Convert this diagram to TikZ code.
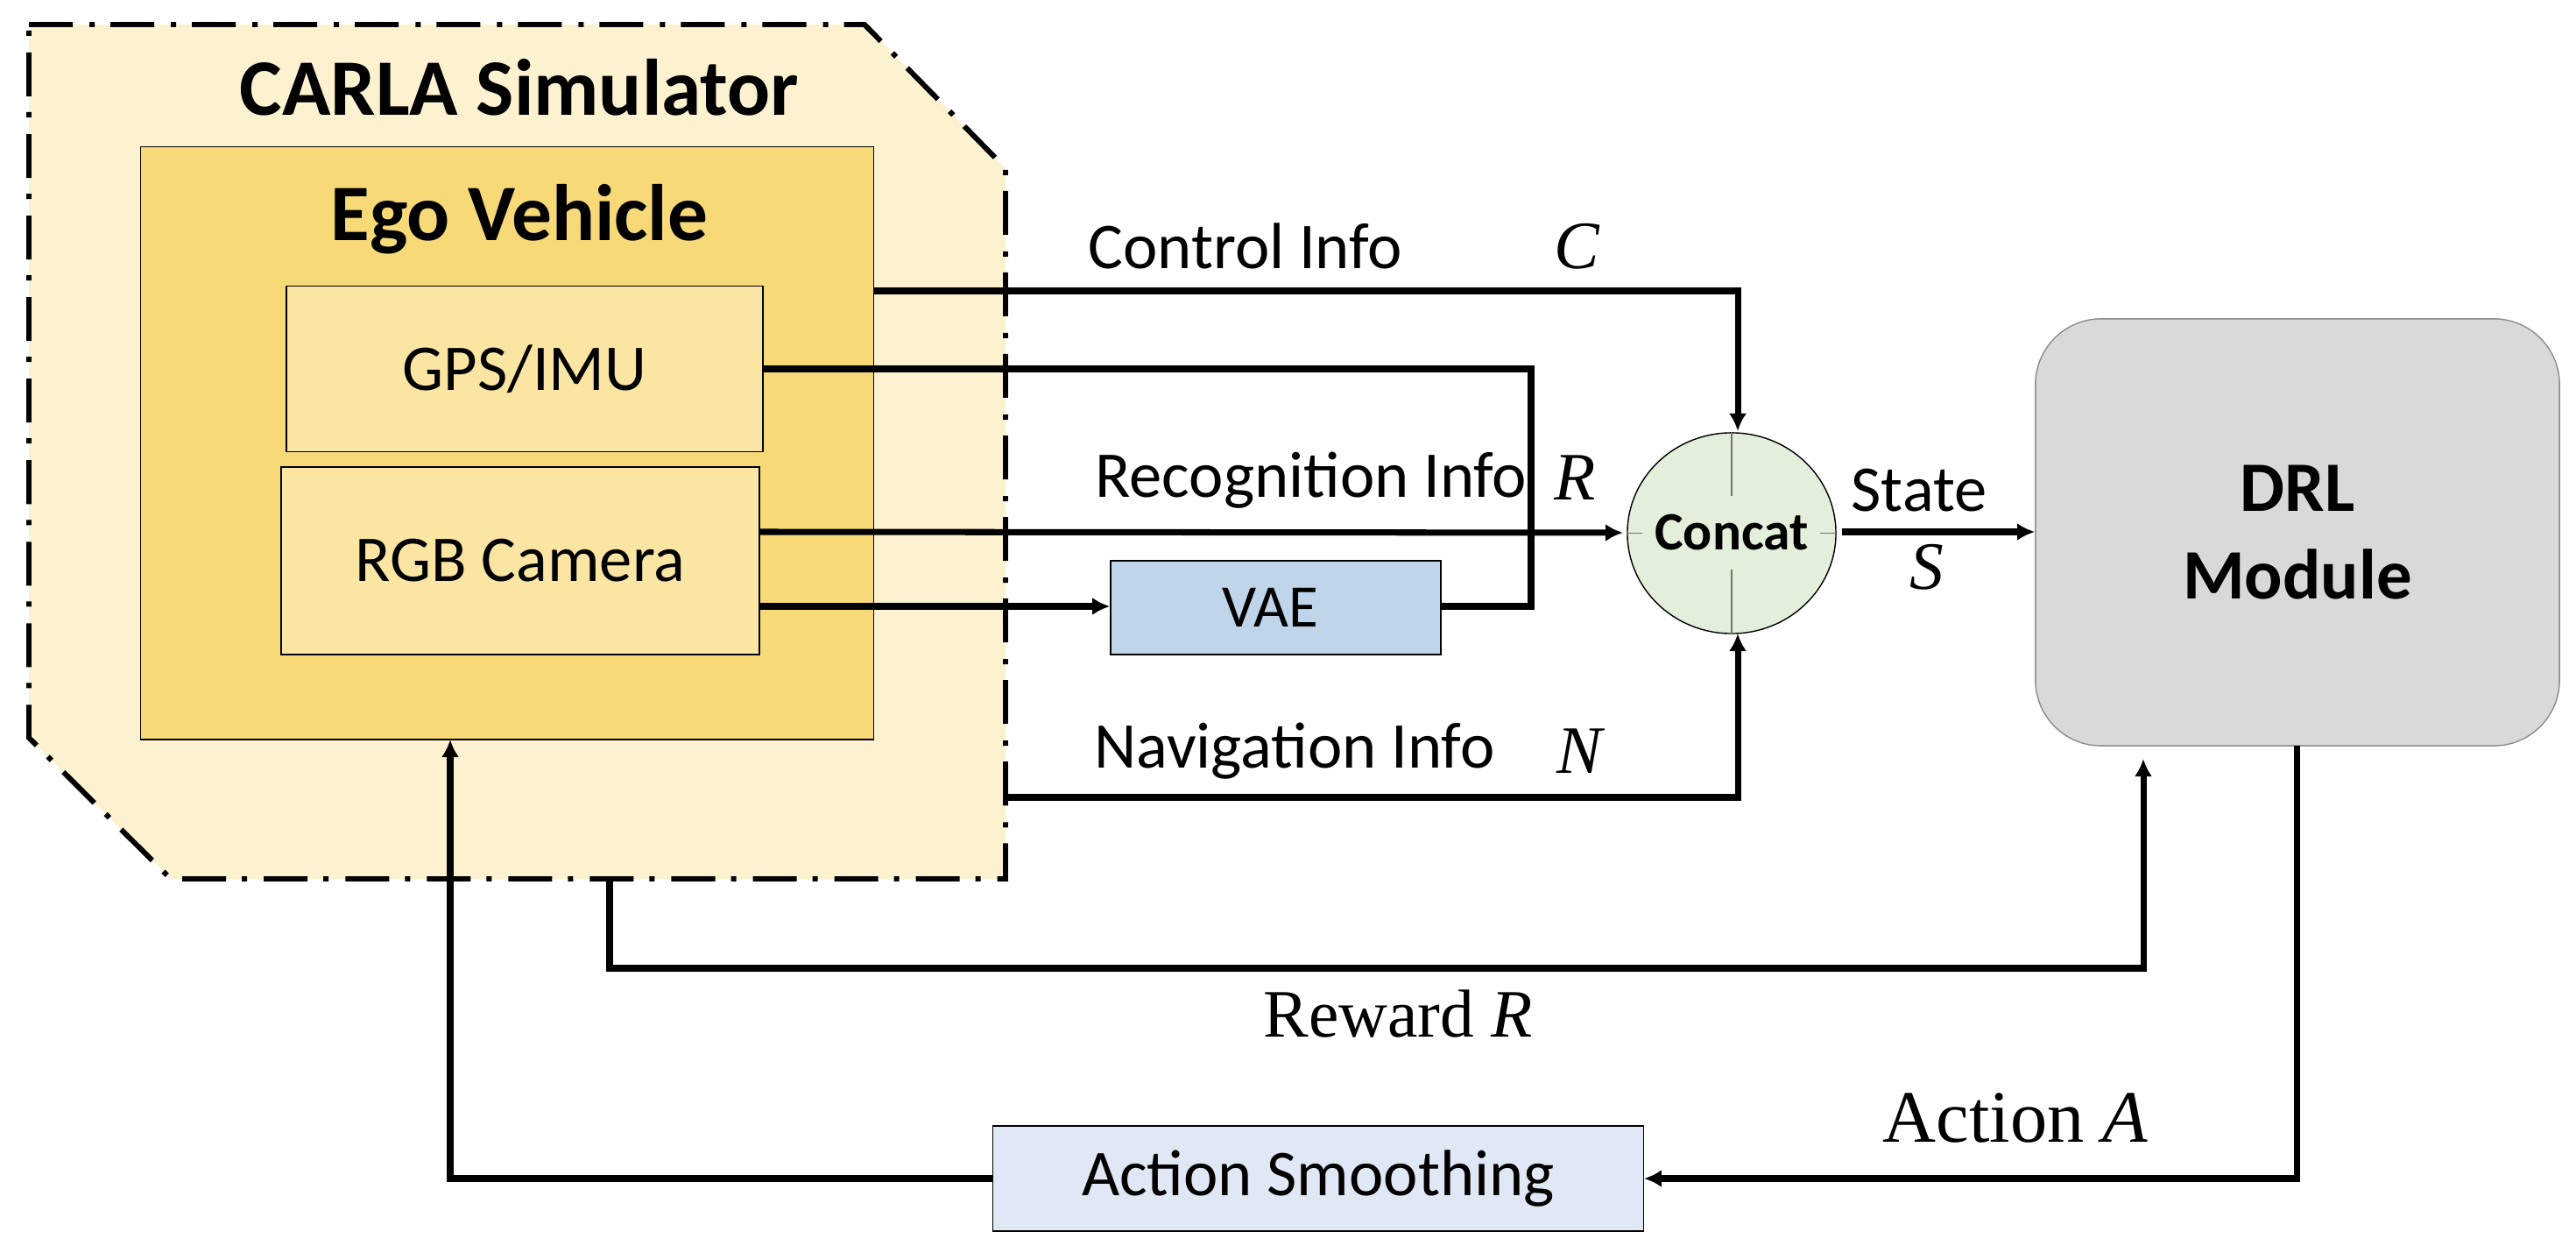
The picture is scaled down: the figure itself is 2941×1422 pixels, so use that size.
\documentclass[tikz,border=0pt]{standalone}
\usepackage{fontspec}
\setmainfont{Carlito}
\newfontfamily\serifface{Liberation Serif}
\usetikzlibrary{arrows.meta,shapes.geometric}
\definecolor{simfill}{HTML}{FDF2D0}
\definecolor{egofill}{HTML}{F7D978}
\definecolor{sensfill}{HTML}{FBE5A3}
\definecolor{concatfill}{HTML}{E3EEDB}
\definecolor{vaefill}{HTML}{C0D5EA}
\definecolor{smoothfill}{HTML}{DFE8F4}
\definecolor{drlfill}{HTML}{D9D9D9}
\tikzset{
	box/.style={draw=black,line width=0.4pt,inner sep=0pt,font=\fontsize{21.2}{25}\selectfont},
	title/.style={inner sep=0pt,font=\fontsize{26}{30}\selectfont\bfseries},
	lab/.style={inner sep=0pt,font=\fontsize{21.2}{25}\selectfont},
	serlab/.style={inner sep=0pt,font=\fontsize{22}{26}\selectfont\serifface},
	var/.style={inner sep=0pt,font=\fontsize{22}{26}\selectfont\serifface\itshape},
	conn/.style={line width=2pt},
	arr/.style={conn,-{Latex[length=0.2cm,width=0.2cm]}},
	tick/.style={draw=black!55,line width=0.5pt}
}
\begin{document}
\begin{tikzpicture}[x=0.01cm,y=-0.01cm]
	\useasboundingbox (0,0) rectangle (2941,1422);
	% simulator outline
	\coordinate (s1) at (33,28);
	\coordinate (s2) at (987,28);
	\coordinate (s3) at (1148,192);
	\coordinate (s4) at (1148,1003);
	\coordinate (s5) at (195,1003);
	\coordinate (s6) at (33,842);
	\fill[simfill] (s1) -- (s2) -- (s3) -- (s4) -- (s5) -- (s6) -- cycle;
	\draw[line width=1.7pt,dash pattern=on 0.5cm off 0.19cm on 0.06cm off 0.18cm] (s1) -- (s2) -- (s3) -- (s4) -- (s5) -- (s6) -- cycle;
	\node[title] (simtitle) at (593,100) {CARLA Simulator};

	% boxes
	\node[box,fill=egofill,minimum width=8.36cm,minimum height=6.76cm] (ego) at (579,506) {};
	\node[title] (egotitle) at (593,250) {Ego Vehicle};
	\node[box,fill=sensfill,minimum width=5.44cm,minimum height=1.885cm] (gps) at (599,421) {GPS/IMU};
	\node[box,fill=sensfill,minimum width=5.46cm,minimum height=2.14cm] (rgb) at (594,640) {RGB Camera};
	\node[box,fill=vaefill,minimum width=3.77cm,minimum height=1.07cm] (vae) at (1456.5,693.5) {};
	\node[lab,font=\fontsize{19.6}{24}\selectfont] (vaetext) at (1450,693) {VAE};
	\node[box,fill=smoothfill,minimum width=7.42cm,minimum height=1.2cm] (smooth) at (1505,1345) {Action Smoothing};
	\node[draw=black!45,line width=0.4pt,fill=drlfill,rounded corners=0.75cm,minimum width=5.98cm,minimum height=4.87cm,inner sep=0pt,align=center,font=\fontsize{23}{28.2}\selectfont\bfseries] (drl) at (2623,607.5) {DRL\\Module};

	% concat
	\node[draw=black,line width=0.4pt,fill=concatfill,ellipse,minimum width=2.38cm,minimum height=2.29cm,inner sep=0pt] (concat) at (1977,608.5) {};
	\draw[tick] (concat.north) -- ++(0,73);
	\draw[tick] (concat.south) -- ++(0,-74);
	\draw[tick] (concat.west) -- ++(18,0);
	\draw[tick] (concat.east) -- ++(-19,0);
	\node[inner sep=0pt,font=\fontsize{17.5}{21}\selectfont\bfseries] (concattext) at (1977,608) {Concat};

	% junction points
	\coordinate (ctrl) at (1984,332);
	\coordinate (nav) at (1984,910);
	\coordinate (gpsdown) at (1748,692);
	\coordinate (rewstart) at (696,1003);
	\coordinate (rewend) at (2447,866);
	\coordinate (actstart) at (2622,851);
	\coordinate (statestart) at (2103,607);
	\coordinate (actend) at (514,844);
	\coordinate (rgbtop) at (867,607);
	\coordinate (rgbbot) at (867,692);
	\coordinate (concatin) at (1853,608);

	% connectors
	\draw[arr] (ego.east |- ctrl) -- (ctrl) -- (1984,492);
	\draw[conn] (gps.east) -- (gps.east -| gpsdown) -- (gpsdown) -- (vae.east |- gpsdown);
	\draw[arr] (rgbtop) -- (concatin);
	\draw[arr] (rgbbot) -- (vae.west |- rgbbot);
	\draw[arr] (s4 |- nav) -- (nav) -- (1984,723);
	\draw[arr] (statestart) -- (drl.west |- statestart);
	\draw[arr] (rewstart) -- (696,1105) -- (2447,1105) -- (rewend);
	\draw[arr] (actstart) -- (2622,1345) -- (smooth.east);
	\draw[arr] (smooth.west) -- (514,1345) -- (actend);

	% labels
	\node[lab] (ctrllab) at (1422,281) {Control Info};
	\node[var] (clab) at (1800,281) {C};
	\node[lab] (reclab) at (1497,548) {Recognition Info};
	\node[var] (rlab) at (1798,545) {R};
	\node[lab] (navlab) at (1478,857) {Navigation Info};
	\node[var] (nlab) at (1803,857) {N};
	\node[lab] (statelab) at (2191,560) {State};
	\node[var] (slab) at (2200,647) {S};
	\node[serlab] (rewlab) at (1596,1157) {Reward \textit{R}};
	\node[serlab,font=\fontsize{24}{28}\selectfont\serifface] (actlab) at (2301,1276) {Action \textit{A}};
\end{tikzpicture}
\end{document}
